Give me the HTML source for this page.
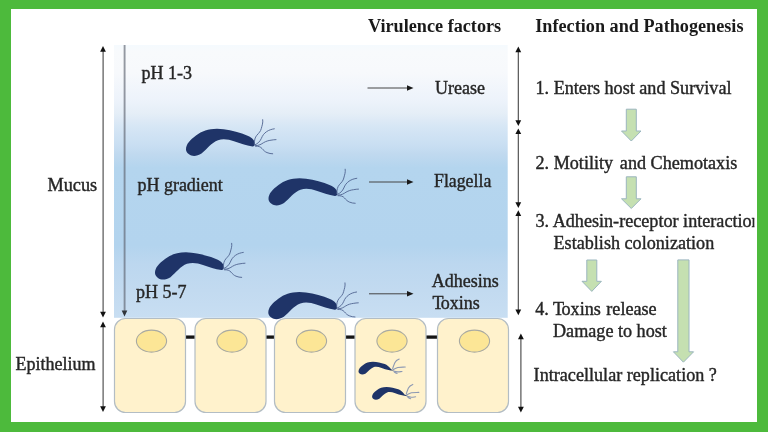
<!DOCTYPE html>
<html>
<head>
<meta charset="utf-8">
<style>
html,body{margin:0;padding:0;background:#4dba3c;}
body{width:768px;height:432px;overflow:hidden;}
svg{display:block;will-change:transform;}
text{font-family:"Liberation Serif",serif;fill:#262626;stroke:#262626;stroke-width:0.4px;white-space:pre;}
.b{font-weight:bold;fill:#1a1a1a;stroke:none;}
</style>
</head>
<body>
<svg width="768" height="432" viewBox="0 0 768 432" style="font-size:18px">
<defs>
  <linearGradient id="mucus" x1="0" y1="0" x2="0" y2="1">
    <stop offset="0" stop-color="#f5fafe"/>
    <stop offset="0.025" stop-color="#f8fafc"/>
    <stop offset="0.10" stop-color="#f7f9fc"/>
    <stop offset="0.20" stop-color="#edf3fb"/>
    <stop offset="0.25" stop-color="#e5eef7"/>
    <stop offset="0.30" stop-color="#d6e6f5"/>
    <stop offset="0.37" stop-color="#c8def2"/>
    <stop offset="0.40" stop-color="#c0d9ef"/>
    <stop offset="0.45" stop-color="#b4d5ee"/>
    <stop offset="0.735" stop-color="#b3d4ee"/>
    <stop offset="0.80" stop-color="#bcd7ef"/>
    <stop offset="0.90" stop-color="#c2daf0"/>
    <stop offset="1" stop-color="#c8def2"/>
  </linearGradient>
  <g id="bact">
    <path fill="#1f3468" d="M10,41.5 C10,36 14,32 20,27.5 C26,23 32,20.8 41,20.7 C50,21 58,23 66,25.5 C71,27.2 76.5,29.5 78.2,33 C79.3,35.5 79,38.7 76.5,38.5 C70,37.7 64,35 58,33.3 C53,31.6 47.5,30.4 42,32.2 C35.5,34.6 31,41 25.5,45.6 C21,48.5 16,48.8 13,46.3 C11,44.8 10,43.3 10,41.5 Z"/>
    <g fill="none" stroke="#4f6390" stroke-width="0.9" stroke-linecap="round">
      <path d="M78.3,36 C78.3,32 79,29.5 80.8,27.3 C83,24.8 84.6,23.5 85.3,20.5 C86,17.5 87.2,15 86.7,11.7"/>
      <path d="M79,36.8 C82,35.5 84,33.5 85.3,30.5 C86.5,27.5 88,25.5 90.5,23.7 C93,22 95.5,21.2 98.3,20.8"/>
      <path d="M79.5,37.6 C83,37.8 85.5,36 87.5,34.7 C90,33.2 92.5,32.5 95,32.2 C97,31.9 98.5,31.6 100,31.6"/>
      <path d="M79.5,38.2 C82.5,38 84.5,38.8 86,40.5 C87.5,42.3 89,43.8 91,44.6 C93,45.4 95,45.8 96.7,45.8"/>
    </g>
  </g>
  <g id="sbact">
    <path fill="#1f3468" d="M10,41.5 C10,36 14,32 20,27.5 C26,23 32,20.8 41,20.7 C50,21 58,23 66,25.5 C71,27.5 75.5,31 78.5,35.3 C80,37.3 83,38.4 86,39.2 C82.5,40 79,39.3 76.5,38.7 C70,37.7 64,35 58,33.3 C53,31.6 47.5,30.4 42,32.2 C35.5,34.6 31,41 25.5,45.6 C21,48.5 16,48.8 13,46.3 C11,44.8 10,43.3 10,41.5 Z"/>
    <g fill="none" stroke="#8d99b3" stroke-width="2.3" stroke-linecap="round">
      <path d="M83,36 C84,31 86,27 87.7,22.8 C89.5,19 93,16.5 97,15"/>
      <path d="M84.6,37 C88,35.5 91,33.8 94,33 C99,31.8 105,32.3 110,32"/>
      <path d="M84.6,40.5 C88,41.5 91,42.3 94,42.3 C97,42.3 100,41.8 103,41.5"/>
      <path d="M86.5,42.5 C88.5,44 90,45 92.5,45.5"/>
    </g>
  </g>
  <g id="cell">
    <rect x="0.5" y="0.5" width="71" height="94" rx="11" ry="11" fill="#fff2cc" stroke="#b3bdc4" stroke-width="1.2"/>
    <ellipse cx="37.5" cy="23.1" rx="15.1" ry="11" fill="#fce696" stroke="#a9aaa2" stroke-width="1.1"/>
  </g>
  <path id="ah" d="M0,0 L-2.9,5.7 L2.9,5.7 Z" fill="#111"/>
</defs>

<!-- white canvas inside green frame -->
<rect x="11" y="9" width="746" height="413" fill="#ffffff"/>

<!-- mucus gradient -->
<rect x="114" y="45" width="393.7" height="272.8" fill="url(#mucus)"/>

<!-- headings -->
<text class="b" x="368" y="31.7" style="font-size:18.2px">Virulence factors</text>
<text class="b" x="535.3" y="32" style="font-size:18.22px">Infection and Pathogenesis</text>

<!-- left axis arrows -->
<g stroke="#444" stroke-width="1.1" fill="none">
  <line x1="103.1" y1="50" x2="103.1" y2="313"/>
  <line x1="103.1" y1="326" x2="103.1" y2="407"/>
</g>
<use href="#ah" x="103" y="46"/>
<use href="#ah" transform="translate(103,317.5) scale(1,-1)"/>
<use href="#ah" x="103" y="321.5"/>
<use href="#ah" transform="translate(103,412) scale(1,-1)"/>

<!-- pH arrow -->
<line x1="124.6" y1="45" x2="124.6" y2="311" stroke="#5f6672" stroke-opacity="0.66" stroke-width="1.9"/>
<path d="M124.5,316.5 L121.7,310.5 L127.3,310.5 Z" fill="#30343a"/>

<!-- left labels -->
<text x="47.4" y="190.8" style="font-size:18.3px">Mucus</text>
<text x="15.6" y="369.8">Epithelium</text>
<text x="141.6" y="79.4">pH 1-3</text>
<text x="137.4" y="190.8">pH gradient</text>
<text x="136" y="297.6">pH 5-7</text>

<!-- virulence factor arrows + labels -->
<g stroke="#444" stroke-width="1">
  <line x1="367.5" y1="88" x2="408" y2="88"/>
  <line x1="369" y1="182" x2="408" y2="182"/>
  <line x1="369" y1="293.8" x2="408" y2="293.8"/>
</g>
<path d="M413.5,88 L407,85.3 L407,90.7 Z" fill="#1a1a1a"/>
<path d="M413.5,182 L407,179.3 L407,184.7 Z" fill="#1a1a1a"/>
<path d="M413.5,293.8 L407,291.1 L407,296.5 Z" fill="#1a1a1a"/>
<text x="435" y="93.9">Urease</text>
<text x="434" y="187" style="font-size:17.8px">Flagella</text>
<text x="431.8" y="286.7">Adhesins</text>
<text x="432.4" y="308.8">T<tspan dx="-1.5">oxins</tspan></text>

<!-- right range arrows -->
<g stroke="#444" stroke-width="1.1" fill="none">
  <line x1="518.3" y1="50" x2="518.3" y2="122"/>
  <line x1="518.3" y1="132" x2="518.3" y2="204"/>
  <line x1="518.3" y1="214" x2="518.3" y2="311"/>
  <line x1="520.9" y1="338" x2="520.9" y2="408"/>
</g>
<use href="#ah" x="518.3" y="46.5"/>
<use href="#ah" transform="translate(518.3,126) scale(1,-1)"/>
<use href="#ah" x="518.3" y="128.4"/>
<use href="#ah" transform="translate(518.3,208) scale(1,-1)"/>
<use href="#ah" x="518.3" y="210.3"/>
<use href="#ah" transform="translate(518.3,315.2) scale(1,-1)"/>
<use href="#ah" x="520.9" y="333.6"/>
<use href="#ah" transform="translate(520.9,412.5) scale(1,-1)"/>

<!-- epithelium cells -->
<g stroke="#141414" stroke-width="3.3">
  <line x1="184" y1="337.1" x2="196" y2="337.1"/>
  <line x1="265" y1="337.1" x2="275" y2="337.1"/>
  <line x1="345" y1="337.1" x2="356" y2="337.1"/>
  <line x1="425" y1="337.1" x2="438" y2="337.1"/>
</g>
<use href="#cell" x="114" y="318"/>
<use href="#cell" x="194.5" y="318"/>
<use href="#cell" x="274" y="318"/>
<use href="#cell" x="354.5" y="318"/>
<use href="#cell" x="437" y="318"/>

<!-- bacteria -->
<use href="#bact" x="176" y="108"/>
<use href="#bact" x="258.5" y="157.5"/>
<use href="#bact" x="145" y="231.6"/>
<use href="#bact" x="258.3" y="271.2"/>
<use href="#sbact" transform="translate(353.8,352.1) scale(0.468)"/>
<use href="#sbact" transform="translate(367.4,377.4) scale(0.468)"/>

<!-- pathogenesis steps -->
<g style="font-size:18.15px">
<text x="535.5" y="93.5">1. Enters host and Survival</text>
<text x="535.5" y="168.8">2. Motility <tspan dx="2.2">and Chemotaxis</tspan></text>
<text x="535.5" y="226.5">3. Adhesin-receptor interaction</text>
<text x="553.5" y="249">Establish colonization</text>
<text x="535.2" y="314.5">4. T<tspan dx="-1.3">oxins</tspan><tspan dx="0.9"> release</tspan></text>
<text x="553" y="336.5">Damage to host</text>
<text x="533.6" y="380.6">Intracellular replication ?</text>
</g>

<!-- green block arrows -->
<g fill="#c5e0b1" stroke="#9bb6bf" stroke-width="1" stroke-linejoin="round">
  <path d="M626.3,109.2 H636.3 V131 H641 L631.3,141 L621.5,131 H626.3 Z"/>
  <path d="M626.3,176.8 H636.3 V198.8 H641 L631.3,208.5 L621.5,198.8 H626.3 Z"/>
  <path d="M586.8,260 H596.8 V281.3 H601.4 L591.8,291.4 L582,281.3 H586.8 Z"/>
  <path d="M677.8,259.9 H689 V351.8 H693.6 L683.4,362.2 L673.4,351.8 H677.8 Z"/>
</g>

<!-- clip text3 overflow with white + green frame on the right -->
<rect x="754.5" y="205" width="3" height="30" fill="#ffffff"/>
<rect x="757" y="0" width="11" height="432" fill="#4dba3c"/>
</svg>
</body>
</html>
